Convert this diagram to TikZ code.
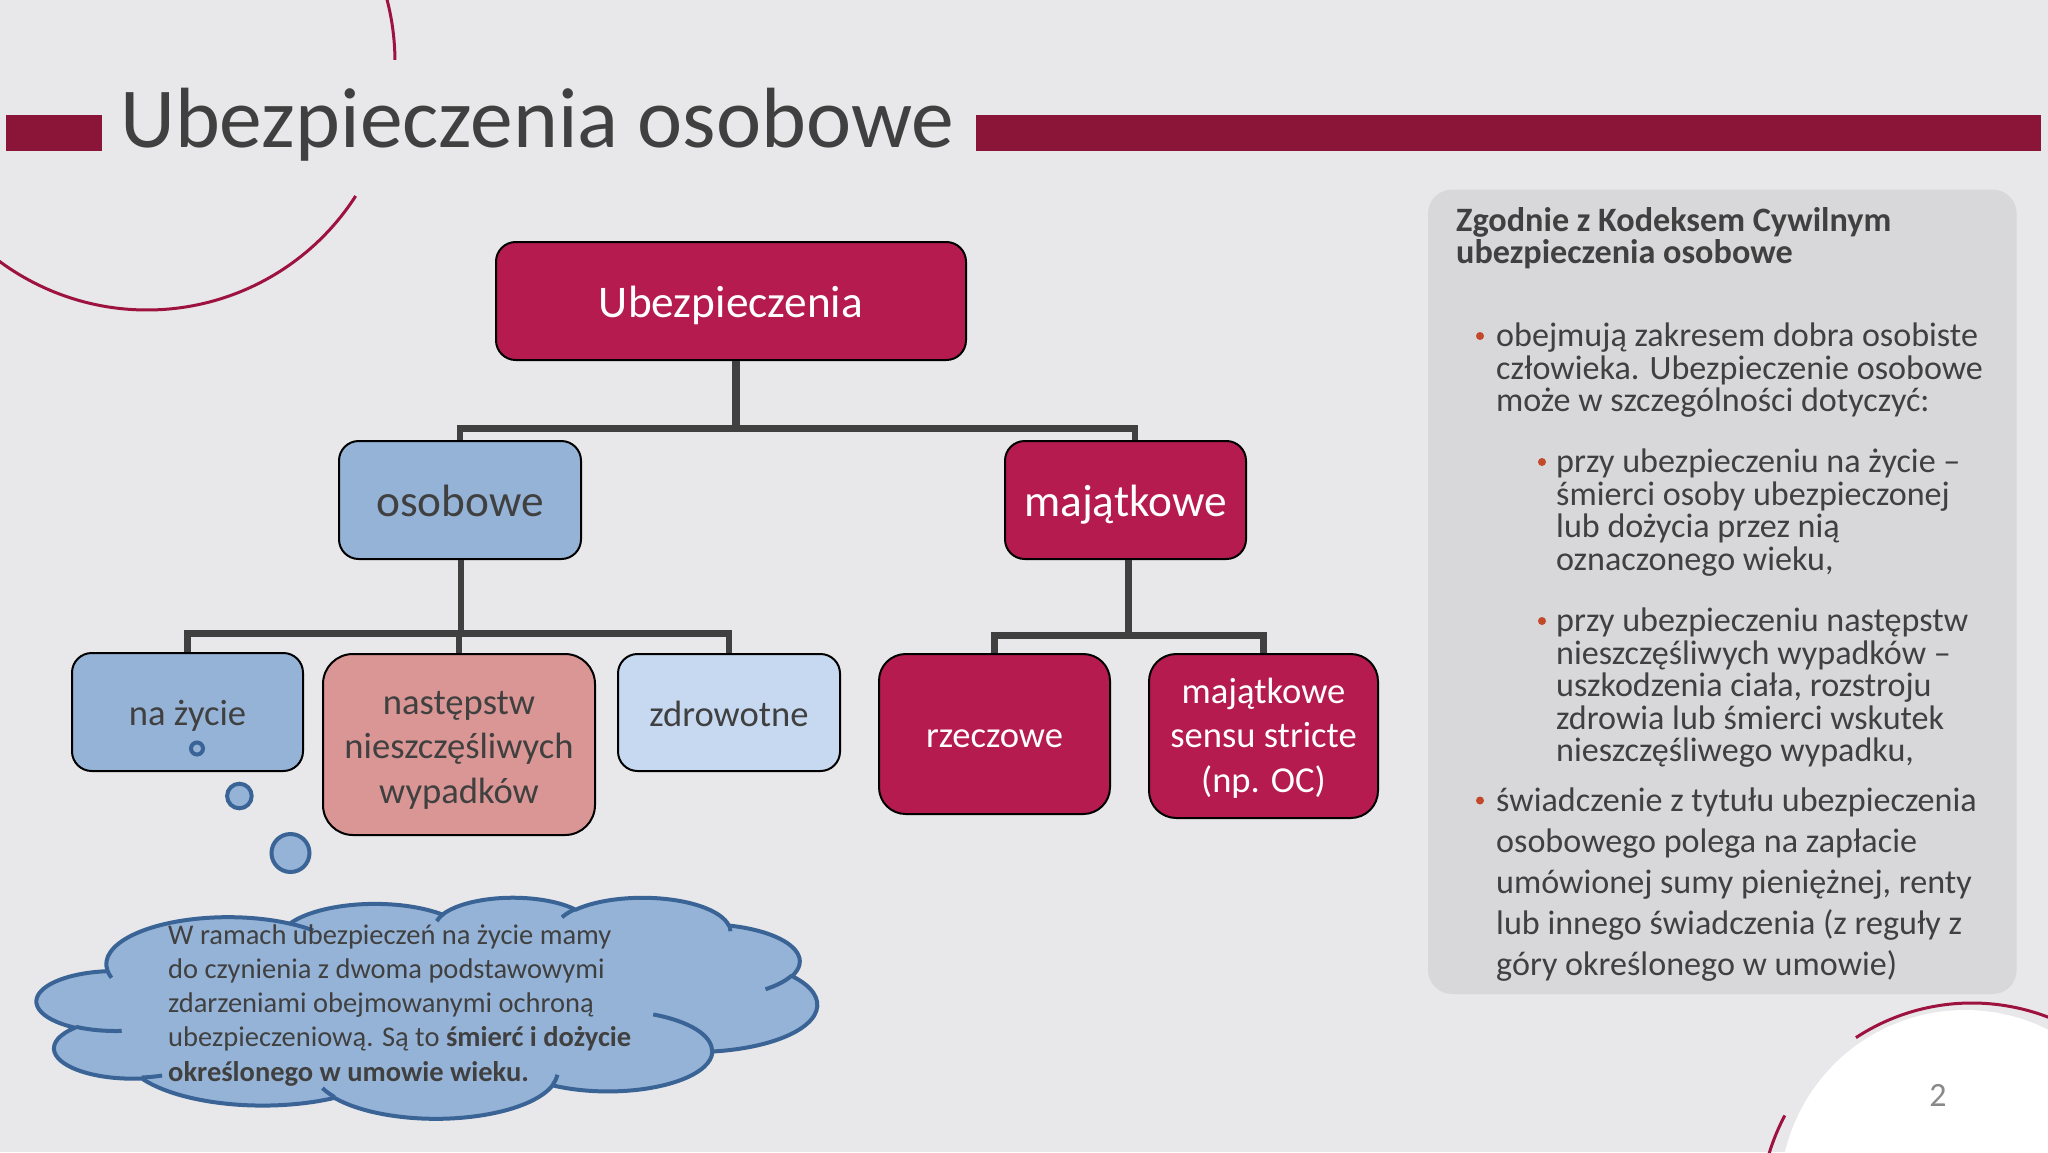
\documentclass[tikz,border=0pt]{standalone}
\usepackage{fontspec}
\setmainfont{Carlito}
\usetikzlibrary{calc}
\definecolor{bg}{RGB}{232,231,233}
\definecolor{panelc}{RGB}{216,215,217}
\definecolor{barc}{RGB}{138,21,56}
\definecolor{crim}{RGB}{181,27,79}
\definecolor{arcc}{RGB}{158,18,64}
\definecolor{txtc}{RGB}{64,64,64}
\definecolor{blu}{RGB}{149,179,215}
\definecolor{pinkc}{RGB}{217,150,148}
\definecolor{lblu}{RGB}{198,217,241}
\definecolor{cldline}{RGB}{58,99,150}
\definecolor{bulc}{RGB}{194,74,42}
\definecolor{connc}{RGB}{64,64,64}
\definecolor{pgnum}{RGB}{137,137,137}
\newcommand\fbig{\fontsize{45.3}{54}\selectfont}
\newcommand\fkid{\fontsize{36.6}{44.5}\selectfont}
\newcommand\fbody{\fontsize{34.1}{41}\selectfont}
\newcommand\fhead{\fontsize{34.2}{32}\selectfont\bfseries}
\newcommand\fcloud{\fontsize{28.5}{34.3}\selectfont}
\tikzset{ooarc/.code args={#1/#2/#3/#4}{%
  \pgfmathsetmacro\ooA{atan2((#1)*sin(#3),(#2)*cos(#3))}%
  \pgfmathsetmacro\ooB{atan2((#1)*sin((#3)+(#4)),(#2)*cos((#3)+(#4)))}%
  \pgfmathsetmacro\ooD{\ooB-\ooA}%
  \pgfmathsetmacro\ooD{\ooD+360*((#4)>0)*(\ooD<0)-360*((#4)<0)*(\ooD>0)}%
  \edef\ooTmp{\noexpand\pgfkeysalso{x radius=#1,y radius=#2,start angle=\ooA,delta angle=\ooD}}\ooTmp}}
\newcommand\myline[5]{\node[txtline, anchor=base west, font=#5] (#1) at (#2,#3) {#4};}
\newcommand\mlines[2]{\raisebox{#1}[\height][\depth]{\begin{tabular}{@{}c@{}}#2\end{tabular}}}
\begin{document}
\begin{tikzpicture}[x=1pt,y=-1pt,
  box/.style={draw=black, line width=2pt, inner sep=0pt, align=center},
  bigtxt/.style={font=\fbig, text height=32pt, text depth=0pt},
  kidtxt/.style={font=\fkid, text height=27.6pt, text depth=0pt},
  conn/.style={draw=connc, line width=6.5pt},
  arcline/.style={draw=arcc, line width=3pt},
  bubble/.style={draw=cldline, line width=4pt, fill=blu},
  txtline/.style={inner sep=0pt, text=txtc},
  bul/.style={fill=bulc}]
\useasboundingbox (0,0) rectangle (2048,1152);
\fill[bg] (0,0) rectangle (2048,1152);
\clip (0,0) rectangle (2048,1152);

% decorative arcs
\draw[arcline] ([shift={(20:248pt)}]147,62) arc[start angle=20, end angle=0.5, radius=248pt];
\draw[arcline] ([shift={(-32.7:248pt)}]147,62) arc[start angle=-32.7, end angle=-145, radius=248pt];
\fill[white] (1965,1195) circle[radius=185pt];
\draw[arcline] ([shift={(123.2:212pt)}]1972,1215) arc[start angle=123.2, end angle=-10, radius=212pt];
\draw[arcline] ([shift={(152:212pt)}]1972,1215) arc[start angle=152, end angle=178, radius=212pt];
\node[inner sep=0pt, anchor=base, text=pgnum, font=\fontsize{34}{40}\selectfont] (pnum) at (1938,1106.7) {2};

% title
\fill[barc] (6,114.5) rectangle (102,150.5);
\fill[barc] (976,114.5) rectangle (2041,150.5);
\node[txtline, anchor=base west, font=\fontsize{85.5}{100}\selectfont] (title) at (120,147.7) {Ubezpieczenia osobowe};

% right panel
\fill[panelc, rounded corners=24pt] (1428,189.6) rectangle (2016.7,994);
\myline{h1}{1456}{231.7}{Zgodnie z Kodeksem Cywilnym}{\fhead}
\myline{h2}{1456}{263.5}{ubezpieczenia osobowe}{\fhead}
\fill[bul] (1480,336) circle[radius=4pt];
\myline{a1}{1496}{346.5}{obejmują zakresem dobra osobiste}{\fbody}
\myline{a2}{1496}{379}{człowieka. Ubezpieczenie osobowe}{\fbody}
\myline{a3}{1496}{411.5}{może w szczególności dotyczyć:}{\fbody}
\fill[bul] (1542,462) circle[radius=4pt];
\myline{b1}{1556}{472.8}{przy ubezpieczeniu na życie –}{\fbody}
\myline{b2}{1556}{505.3}{śmierci osoby ubezpieczonej}{\fbody}
\myline{b3}{1556}{537.8}{lub dożycia przez nią}{\fbody}
\myline{b4}{1556}{570.4}{oznaczonego wieku,}{\fbody}
\fill[bul] (1542,621) circle[radius=4pt];
\myline{c1}{1556}{631.6}{przy ubezpieczeniu następstw}{\fbody}
\myline{c2}{1556}{664}{nieszczęśliwych wypadków –}{\fbody}
\myline{c3}{1556}{696.6}{uszkodzenia ciała, rozstroju}{\fbody}
\myline{c4}{1556}{729}{zdrowia lub śmierci wskutek}{\fbody}
\myline{c5}{1556}{761.7}{nieszczęśliwego wypadku,}{\fbody}
\fill[bul] (1480,800.5) circle[radius=4pt];
\myline{d1}{1496}{811.7}{świadczenie z tytułu ubezpieczenia}{\fbody}
\myline{d2}{1496}{852.7}{osobowego polega na zapłacie}{\fbody}
\myline{d3}{1496}{893.5}{umówionej sumy pieniężnej, renty}{\fbody}
\myline{d4}{1496}{934.5}{lub innego świadczenia (z reguły z}{\fbody}
\myline{d5}{1496}{975.3}{góry określonego w umowie)}{\fbody}

% tree boxes
\node[box, bigtxt, fill=crim, text=white, minimum width=470pt, minimum height=118pt, rounded corners=19.7pt] (ub) at (731,301) {Ubezpieczenia};
\node[box, bigtxt, fill=blu, text=txtc, minimum width=242pt, minimum height=118pt, rounded corners=19.7pt] (os) at (460,500) {osobowe};
\node[box, bigtxt, fill=crim, text=white, minimum width=241pt, minimum height=118pt, rounded corners=19.7pt] (maj) at (1125.5,500) {majątkowe};
\node[box, kidtxt, fill=blu, text=txtc, minimum width=231pt, minimum height=118pt, rounded corners=19.7pt] (zy) at (187.5,712) {na życie};
\node[box, font=\fkid, fill=pinkc, text=txtc, minimum width=272pt, minimum height=181pt, rounded corners=30pt] (nnw) at (459,744.5) {\mlines{-5.2pt}{następstw\\nieszczęśliwych\\wypadków}};
\node[box, kidtxt, fill=lblu, text=txtc, minimum width=222pt, minimum height=117pt, rounded corners=19.5pt] (zdr) at (729,712.5) {zdrowotne};
\node[box, kidtxt, fill=crim, text=white, minimum width=231pt, minimum height=160pt, rounded corners=26.7pt] (rz) at (994.5,734) {rzeczowe};
\node[box, font=\fkid, fill=crim, text=white, minimum width=229pt, minimum height=164pt, rounded corners=27.3pt] (mss) at (1263.5,736) {\mlines{-2.6pt}{majątkowe\\sensu stricte\\(np. OC)}};

% connectors
\coordinate (j1) at (736,428.5);
\draw[conn, line width=8pt] (ub.south -| j1) -- (j1);
\draw[conn] (os.north) |- (j1) -| ([xshift=9.5pt]maj.north);
\coordinate (j2) at (461,633.5);
\draw[conn] (os.south -| j2) -- (j2);
\draw[conn] (zy.north) |- (j2) -| (zdr.north);
\draw[conn] (nnw.north) -- (nnw.north |- j2);
\coordinate (j3) at (1128.5,635.5);
\draw[conn] (maj.south -| j3) -- (j3);
\draw[conn] (rz.north) |- (j3) -| (mss.north);

% thought bubbles
\draw[bubble] (197,748.5) circle[radius=6pt];
\draw[bubble] (239.4,796) circle[radius=12.3pt];
\draw[bubble] (290.5,853) circle[radius=19pt];

% cloud (OOXML cloud geometry, 432 x 432 units)
\begin{scope}[xshift=37pt, yshift=-897pt, x=1.80556pt, y=-0.51157pt]
\draw[draw=cldline, line width=4pt, fill=blu, line join=round]
  (39.00,143.70)
  arc[ooarc=67.53/91.90/-190.4875/123.7805]
  arc[ooarc=53.33/72.67/-144.1024/89.9452]
  arc[ooarc=43.65/59.45/-145.8079/99.7230]
  arc[ooarc=48.57/65.95/-130.9861/117.2417]
  arc[ooarc=53.33/72.73/-78.7089/109.0269]
  arc[ooarc=67.75/92.20/-46.2673/130.2690]
  arc[ooarc=57.85/78.67/0.6250/114.0333]
  arc[ooarc=67.52/92.15/22.4516/115.1726]
  arc[ooarc=77.20/105.43/66.2426/75.7110]
  arc[ooarc=43.60/59.18/-274.9421/146.7356]
  arc[ooarc=43.45/59.45/-246.8285/152.5189]
  -- cycle;
\draw[draw=cldline, line width=4pt]
  (46.93,261.77) arc[ooarc=43.45/59.45/86.7420/26.4295]
  (69.28,348.99) arc[ooarc=43.60/59.18/73.6105/11.4475]
  (164.78,390.90) arc[ooarc=67.52/92.15/137.6242/14.0811]
  (288.27,347.51) arc[ooarc=67.52/92.15/6.4533/15.9984]
  (341.29,229.54) arc[ooarc=57.85/78.67/-70.2924/70.9174]
  (417.98,153.54) arc[ooarc=53.33/72.73/30.3180/27.7515]
  (383.24,54.26) arc[ooarc=48.57/65.95/-13.7443/14.8589]
  (290.78,39.52) arc[ooarc=48.57/65.95/-149.1815/18.1954]
  (221.41,47.20) arc[ooarc=43.65/59.45/-163.4943/17.6864]
  (140.00,51.92) arc[ooarc=67.53/91.90/-66.7070/12.3194]
  (41.27,157.89) arc[ooarc=67.53/91.90/157.6544/11.8582];
\end{scope}
\myline{k1}{168}{944}{W ramach ubezpieczeń na życie mamy}{\fcloud}
\myline{k2}{168}{978.3}{do czynienia z dwoma podstawowymi}{\fcloud}
\myline{k3}{168}{1012.6}{zdarzeniami obejmowanymi ochroną}{\fcloud}
\myline{k4}{168}{1046.9}{ubezpieczeniową. Są to \textbf{śmierć i dożycie}}{\fcloud}
\myline{k5}{168}{1081.2}{\textbf{określonego w umowie wieku.}}{\fcloud}
\end{tikzpicture}
\end{document}
